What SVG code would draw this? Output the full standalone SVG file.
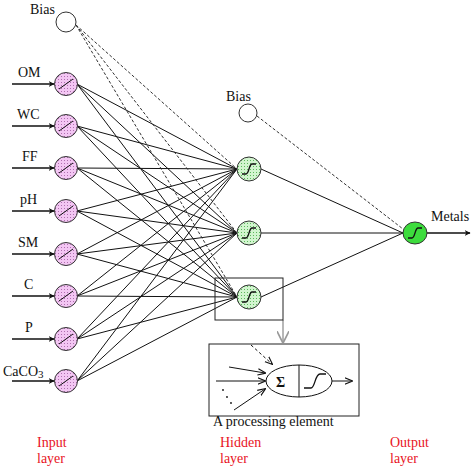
<svg xmlns="http://www.w3.org/2000/svg" width="474" height="470" viewBox="0 0 474 470">
<style>
text{font-family:"Liberation Serif","Times New Roman",serif;font-size:14px;fill:#111}
.red{fill:#e8141e;font-size:14px}
.ln{stroke:#111;stroke-width:1;fill:none}
.dash{stroke:#333;stroke-width:1;fill:none;stroke-dasharray:3,2}
.inp{fill:url(#pinkDots);stroke:#333;stroke-width:1}
.hid{fill:url(#greenDots);stroke:#333;stroke-width:1}
.sig{stroke:#111;stroke-width:1.3;fill:none}
.arr{stroke:#111;stroke-width:1.6;fill:none;marker-end:url(#ah)}
</style>
<defs>
<pattern id="pinkDots" width="3" height="3" patternUnits="userSpaceOnUse">
<rect width="3" height="3" fill="#f3c6f3"/><rect x="1" y="1" width="1" height="1" fill="#b070b0"/>
</pattern>
<pattern id="greenDots" width="3" height="3" patternUnits="userSpaceOnUse">
<rect width="3" height="3" fill="#d2f5cf"/><rect x="1" y="1" width="1" height="1" fill="#5cb85c"/>
</pattern>
<marker id="ah" viewBox="0 0 10 10" refX="9" refY="5" markerWidth="6" markerHeight="6" orient="auto" markerUnits="userSpaceOnUse">
<path d="M0,0 L10,5 L0,10 L3,5 z" fill="#111"/>
</marker>
<marker id="ahs" viewBox="0 0 10 10" refX="9" refY="5" markerWidth="8" markerHeight="8" orient="auto" markerUnits="userSpaceOnUse">
<path d="M0,1 L10,5 L0,9" fill="none" stroke="#111" stroke-width="1.4"/>
</marker>
<marker id="ahg" viewBox="0 0 10 10" refX="9" refY="5" markerWidth="12" markerHeight="12" orient="auto" markerUnits="userSpaceOnUse">
<path d="M0,0 L10,5 L0,10" fill="none" stroke="#999" stroke-width="1.4"/>
</marker>
</defs>

<g id="connectors">
<path class="arr" d="M12,84 L54,84"/>
<path class="arr" d="M12,126 L54,126"/>
<path class="arr" d="M12,168 L54,168"/>
<path class="arr" d="M12,211 L54,211"/>
<path class="arr" d="M12,254 L54,254"/>
<path class="arr" d="M12,296 L54,296"/>
<path class="arr" d="M12,339 L54,339"/>
<path class="arr" d="M12,381 L54,381"/>
<g class="ln">
<path d="M77,84 L237,169 M77,84 L237,233 M77,84 L237,297"/>
<path d="M77,126 L237,169 M77,126 L237,233 M77,126 L237,297"/>
<path d="M77,168 L237,169 M77,168 L237,233 M77,168 L237,297"/>
<path d="M77,211 L237,169 M77,211 L237,233 M77,211 L237,297"/>
<path d="M77,254 L237,169 M77,254 L237,233 M77,254 L237,297"/>
<path d="M77,296 L237,169 M77,296 L237,233 M77,296 L237,297"/>
<path d="M77,339 L237,169 M77,339 L237,233 M77,339 L237,297"/>
<path d="M77,381 L237,169 M77,381 L237,233 M77,381 L237,297"/>
</g>
<path class="dash" d="M76,25 L237,169 M76,25 L237,233 M76,25 L237,297"/>
<path class="dash" d="M257,116 L403,229"/>
<path class="ln" d="M261,169 L403,233 M261,233 L403,233 M261,297 L403,233"/>
<path class="arr" d="M427,233 L470,233"/>
<path d="M283,320 L283,342" stroke="#999" stroke-width="1.4" marker-end="url(#ahg)"/>
</g>

<g id="bias-input">
<text x="30" y="14">Bias</text>
<circle cx="66" cy="22" r="10" fill="#fff" stroke="#333"/>
</g>

<g id="input-nodes">
<g id="in-OM"><text x="18" y="77">OM</text><circle class="inp" cx="66" cy="84" r="11.5"/><line class="ln" x1="59" y1="89" x2="73" y2="79"/></g>
<g id="in-WC"><text x="17" y="119">WC</text><circle class="inp" cx="66" cy="126" r="11.5"/><line class="ln" x1="59" y1="131" x2="73" y2="121"/></g>
<g id="in-FF"><text x="22" y="161">FF</text><circle class="inp" cx="66" cy="168" r="11.5"/><line class="ln" x1="59" y1="173" x2="73" y2="163"/></g>
<g id="in-pH"><text x="20" y="204">pH</text><circle class="inp" cx="66" cy="211" r="11.5"/><line class="ln" x1="59" y1="216" x2="73" y2="206"/></g>
<g id="in-SM"><text x="18" y="247">SM</text><circle class="inp" cx="66" cy="254" r="11.5"/><line class="ln" x1="59" y1="259" x2="73" y2="249"/></g>
<g id="in-C"><text x="24" y="289">C</text><circle class="inp" cx="66" cy="296" r="11.5"/><line class="ln" x1="59" y1="301" x2="73" y2="291"/></g>
<g id="in-P"><text x="25" y="332">P</text><circle class="inp" cx="66" cy="339" r="11.5"/><line class="ln" x1="59" y1="344" x2="73" y2="334"/></g>
<g id="in-CaCO3"><text x="3" y="376">CaCO<tspan font-size="11" dy="2">3</tspan></text><circle class="inp" cx="66" cy="381" r="11.5"/><line class="ln" x1="59" y1="386" x2="73" y2="376"/></g>
</g>

<g id="bias-hidden">
<text x="226" y="101">Bias</text>
<circle cx="248" cy="113" r="9" fill="#fff" stroke="#333"/>
</g>

<g id="hidden-nodes">
<g id="h1"><circle class="hid" cx="249" cy="169" r="12"/><path class="sig" d="M242,174 L246,174 C249,174 249,164 252,164 L256,164"/></g>
<g id="h2"><circle class="hid" cx="249" cy="233" r="12"/><path class="sig" d="M242,238 L246,238 C249,238 249,228 252,228 L256,228"/></g>
<g id="h3"><circle class="hid" cx="249" cy="297" r="12"/><path class="sig" d="M242,302 L246,302 C249,302 249,292 252,292 L256,292"/></g>
<rect x="215" y="278" width="68" height="42" fill="none" stroke="#222" stroke-width="1"/>
</g>

<g id="output-node">
<ellipse cx="415" cy="233" rx="12" ry="11" fill="#3ddc3d" stroke="#333"/>
<path class="sig" d="M408,238 L412,238 C415,238 415,228 418,228 L422,228"/>
<text x="431" y="221">Metals</text>
</g>

<g id="processing-element">
<rect x="209" y="344" width="150" height="72" fill="#fff" stroke="#222" stroke-width="1"/>
<ellipse cx="299" cy="381" rx="33" ry="16" fill="#fff" stroke="#111"/>
<line x1="299" y1="365" x2="299" y2="397" stroke="#111"/>
<text x="276" y="387" font-weight="bold" font-size="16">Σ</text>
<path class="sig" d="M304,388 L311,388 C315,388 315,374 320,374 L326,374"/>
<path d="M332,381 L352,381" stroke="#111" marker-end="url(#ahs)"/>
<path d="M251,345 L272,364" stroke="#111" stroke-dasharray="3,2.5" marker-end="url(#ahs)"/>
<path d="M229,367 L265,373" stroke="#111" marker-end="url(#ahs)"/>
<path d="M216,381 L265,381" stroke="#111" marker-end="url(#ahs)"/>
<path d="M234,410 L265,389" stroke="#111" marker-end="url(#ahs)"/>
<circle cx="223" cy="390" r="0.9" fill="#111"/>
<circle cx="227" cy="397" r="0.9" fill="#111"/>
<circle cx="231" cy="403" r="0.9" fill="#111"/>
<text x="213" y="426">A processing element</text>
</g>

<g id="layer-labels">
<text class="red" x="37" y="447">Input</text>
<text class="red" x="37" y="463">layer</text>
<text class="red" x="220" y="447">Hidden</text>
<text class="red" x="220" y="463">layer</text>
<text class="red" x="390" y="447">Output</text>
<text class="red" x="390" y="463">layer</text>
</g>
</svg>
